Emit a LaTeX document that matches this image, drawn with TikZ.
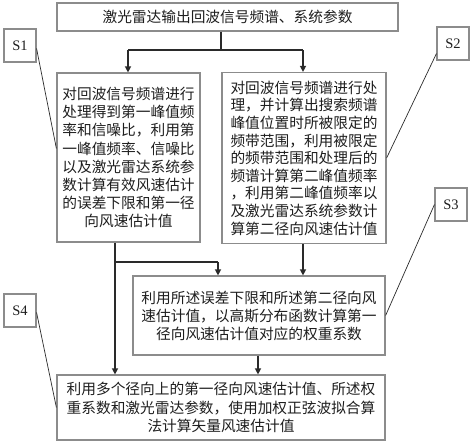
\documentclass[tikz,border=0pt]{standalone}
\usepackage{fontspec}
\setmainfont{Liberation Serif}
\newfontfamily\cjk{Noto Sans CJK SC}
\usetikzlibrary{arrows.meta}
\definecolor{boxgray}{HTML}{8C8C8C}
\definecolor{linec}{HTML}{2A2A2A}
\definecolor{textc}{HTML}{1E1E1E}
\newcommand\tightls{\lineskiplimit=-30pt\relax\lineskip=0pt\relax}
\begin{document}
\begin{tikzpicture}[x=1pt,y=-1pt,
  box/.style={draw=boxgray, line width=1.2pt, inner sep=0pt, fill=white},
  txt/.style={font=\cjk\fontsize{14.7pt}{#1}\selectfont\tightls, align=center, text=textc, inner sep=0pt},
  txt/.default={18pt},
  sbox/.style={draw=boxgray, line width=1.1pt, minimum width=32pt, minimum height=33pt, inner sep=0pt, font=\fontsize{14.5pt}{16pt}\selectfont, text=textc},
  arr/.style={draw=linec, line width=1.3pt, -{Triangle[length=6pt,width=6pt]}},
  ln/.style={draw=linec, line width=1.3pt},
  lead/.style={draw=linec, line width=0.7pt}]
\useasboundingbox (0,0) rectangle (474,445);
\fill[white] (0,0) rectangle (474,445);

% boxes
\node[box, minimum width=341pt, minimum height=28pt, txt] (top) at (227.5,17) {激光雷达输出回波信号频谱、系统参数};
\node[box, minimum width=143pt, minimum height=169pt, txt=18.2pt] (b1) at (128.5,157.5) {对回波信号频谱进行\\处理得到第一峰值频\\率和信噪比，利用第\\一峰值频率、信噪比\\以及激光雷达系统参\\数计算有效风速估计\\的误差下限和第一径\\向风速估计值};
\node[box, minimum width=164pt, minimum height=171pt, txt=17.6pt] (b2) at (304,158) {对回波信号频谱进行处\\理，并计算出搜索频谱\\峰值位置时所被限定的\\频带范围，利用被限定\\的频带范围和处理后的\\频谱计算第二峰值频率\\，利用第二峰值频率以\\及激光雷达系统参数计\\算第二径向风速估计值};
\node[box, minimum width=252pt, minimum height=79pt, txt=18pt] (b3) at (259,315.5) {利用所述误差下限和所述第二径向风\\速估计值，以高斯分布函数计算第一\\径向风速估计值对应的权重系数};
\node[box, minimum width=328pt, minimum height=65pt, txt=18.5pt] (b4) at (221,407.5) {利用多个径向上的第一径向风速估计值、所述权\\重系数和激光雷达参数，使用加权正弦波拟合算\\法计算矢量风速估计值};

% step labels
\node[sbox] (s1) at (20,45.5) {S1};
\node[sbox] (s2) at (453,43.5) {S2};
\node[sbox] (s3) at (451,204.5) {S3};
\node[sbox] (s4) at (20,310.5) {S4};

% connectors
\coordinate (split) at (221,50);
\draw[ln] (top.south -| split) -- (split);
\draw[ln] (128,50) -- (303,50);
\draw[arr] (128,50) -- (b1.north -| 128,0);
\draw[arr] (303,50) -- (b2.north -| 303,0);

\coordinate (j1) at (115,262);
\draw[arr] (b1.south -| j1) -- (b4.north -| j1);
\draw[ln] (j1) -- (218,262);
\draw[arr] (218,262) -- (b3.north -| 218,0);
\draw[arr] (b2.south -| 303,0) -- (b3.north -| 303,0);
\draw[arr] (b3.south -| 258,0) -- (b4.north -| 258,0);

% leader lines
\draw[lead] ([yshift=-3pt]s1.east) -- ([yshift=9pt]b1.west);
\draw[lead] ([yshift=7pt]s2.south west) -- (b2.east);
\draw[lead] (s3.west) -- (b3.east);
\draw[lead] ([yshift=-2pt]s4.east) -- (b4.west);
\end{tikzpicture}
\end{document}
